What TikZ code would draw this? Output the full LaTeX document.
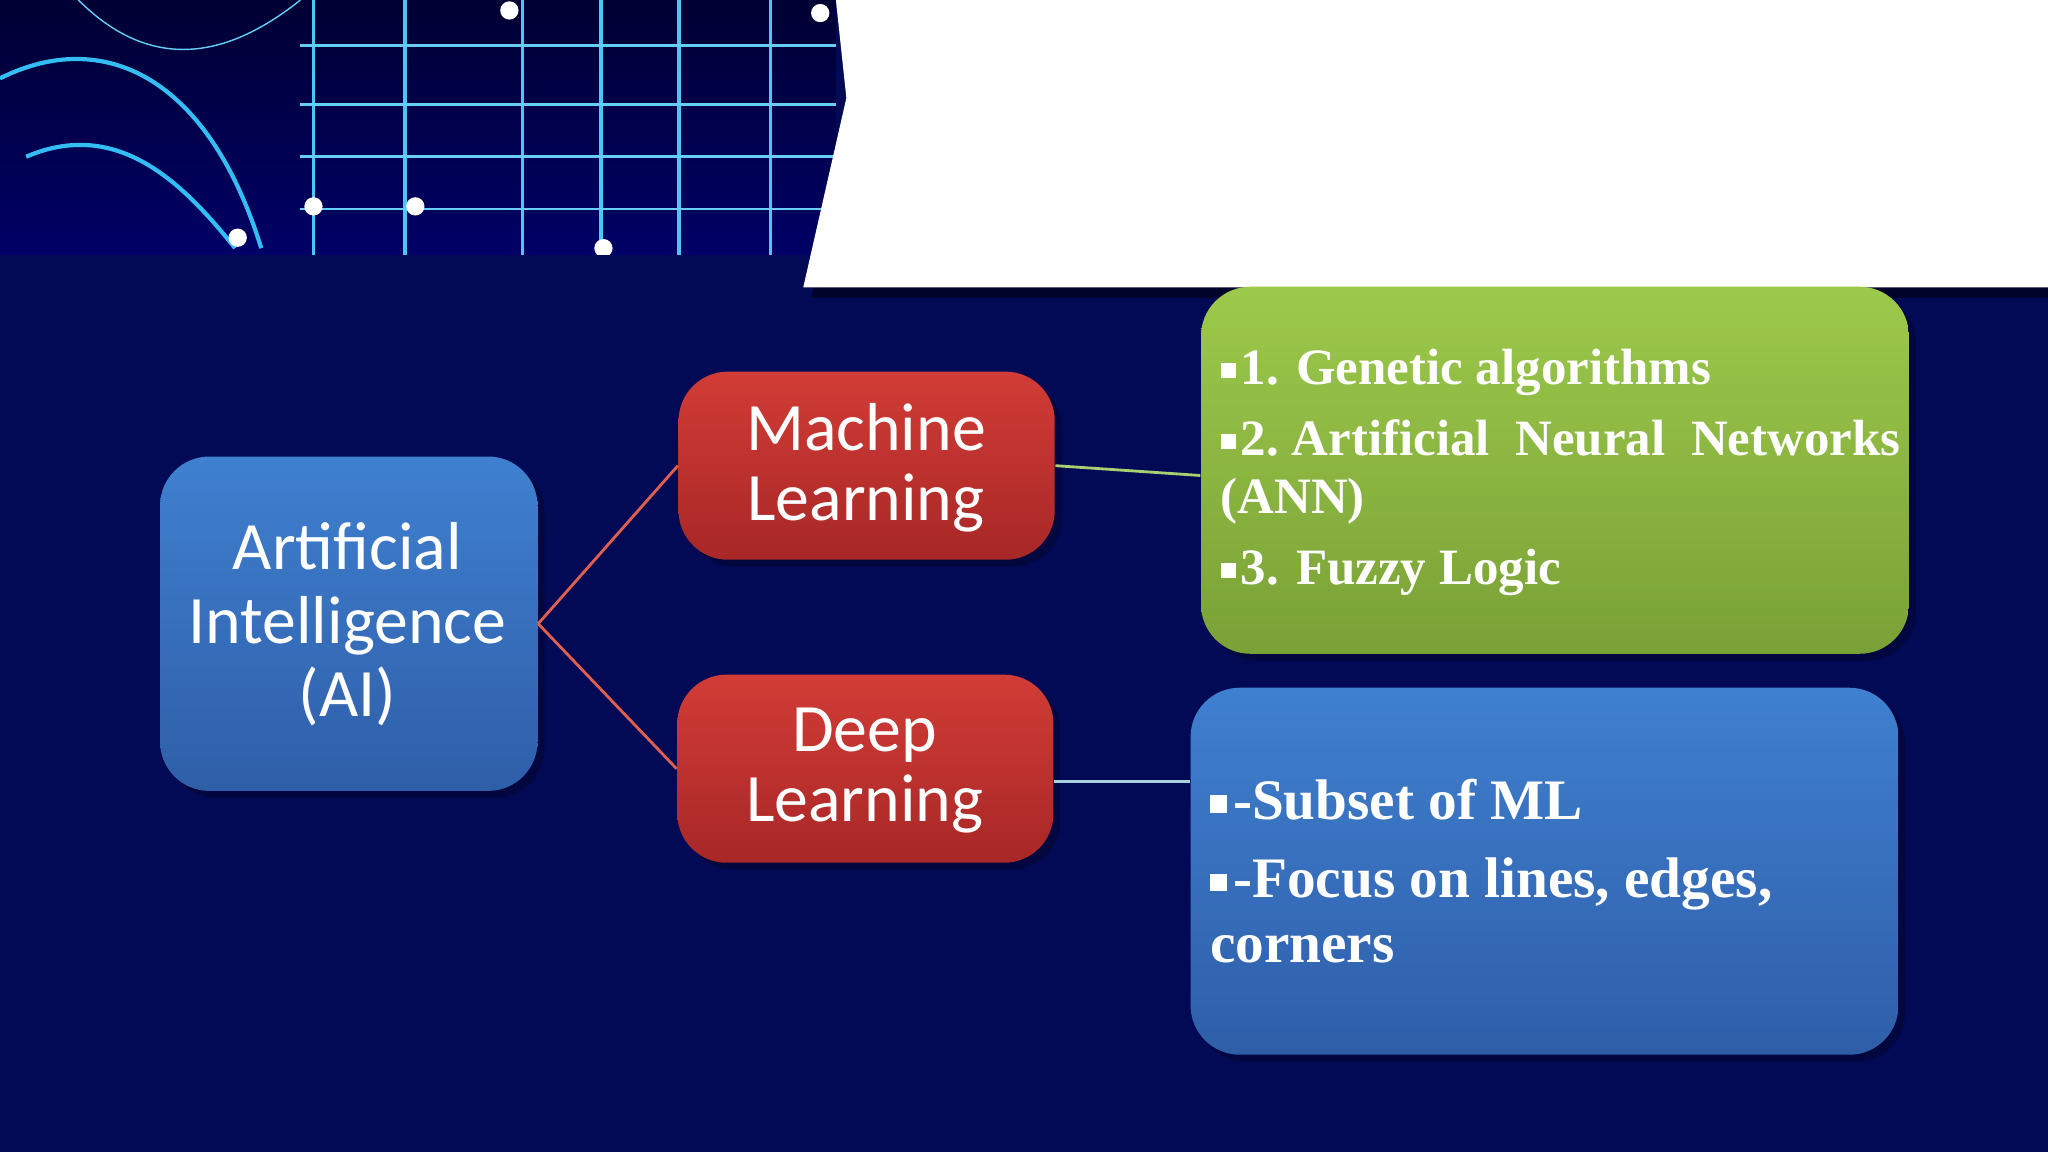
\documentclass[tikz,border=0pt]{standalone}
\usepackage{fontspec}
\setmainfont{Liberation Serif}
\newfontfamily\carl{Carlito}
\usetikzlibrary{shadows}
\definecolor{bg}{HTML}{030A55}
\definecolor{bluetop}{HTML}{3F80D0}
\definecolor{bluebot}{HTML}{2F5EA8}
\definecolor{redtop}{HTML}{D23C36}
\definecolor{redbot}{HTML}{A72727}
\definecolor{grtop}{HTML}{9DC94B}
\definecolor{grbot}{HTML}{79A136}
\definecolor{redline}{HTML}{E0604F}
\definecolor{grline}{HTML}{A8D070}
\definecolor{bline}{HTML}{A8D0E0}
\begin{document}
\begin{tikzpicture}[x=0.013061cm,y=-0.013061cm,
 box/.style={rounded corners=14pt,draw=none,drop shadow={opacity=0.25,fill=black,shadow xshift=2pt,shadow yshift=-2pt}},
 lbl/.style={text=white,font=\carl\fontsize{19.3}{24}\selectfont,align=center},
 bl/.style={text=white,anchor=west,font=\bfseries\fontsize{14.5}{16.5}\selectfont,align=left}]
\useasboundingbox (0,0) rectangle (1568,882);
\fill[bg] (0,0) rectangle (1568,882);
% top image
\fill[top color=black!80!blue, bottom color=blue!40!black] (0,0) rectangle (640,195);
\begin{scope}
\clip (0,0) rectangle (640,195);
\foreach \x in {240,310,400,460,520,590}{\draw[cyan!70,line width=1pt] (\x,0) -- (\x,195);}
\foreach \y in {35,80,120,160}{\draw[cyan!60,line width=0.8pt] (230,\y) -- (640,\y);}
\draw[cyan!80,line width=1.2pt] (0,60) .. controls (80,20) and (160,60) .. (200,190);
\draw[cyan!80,line width=1.2pt] (20,120) .. controls (90,90) and (140,140) .. (180,190);
\draw[cyan!60] (60,0) .. controls (120,60) and (180,40) .. (230,0);
\foreach \p in {(390,8),(240,158),(318,158),(182,182),(462,190),(628,10)}{\fill[white] \p circle (7);}
\end{scope}
\fill[white,drop shadow={opacity=0.5,fill=black,shadow yshift=-3pt}] (640,0) -- (1568,0) -- (1568,220) -- (615,220) -- (648,75) -- cycle;
% boxes
\node[box,top color=bluetop,bottom color=bluebot,minimum width=289*0.013061cm,minimum height=256*0.013061cm,anchor=north west] (ai) at (122,349) {};
\node[lbl] at (266,478) {Artificial\\[-3pt]Intelligence\\[-3pt](AI)};
\node[box,top color=redtop,bottom color=redbot,minimum width=288*0.013061cm,minimum height=144*0.013061cm,anchor=north west] (ml) at (519,284) {};
\node[lbl] at (663,358) {Machine\\[-4pt]Learning};
\node[box,top color=redtop,bottom color=redbot,minimum width=288*0.013061cm,minimum height=144*0.013061cm,anchor=north west] (dl) at (518,516) {};
\node[lbl] at (662,590) {Deep\\[-4pt]Learning};
\node[box,top color=grtop,bottom color=grbot,minimum width=542*0.013061cm,minimum height=281*0.013061cm,anchor=north west] (gr) at (919,219) {};
\node[box,top color=bluetop,bottom color=bluebot,minimum width=542*0.013061cm,minimum height=281*0.013061cm,anchor=north west] (bb) at (911,526) {};
% connectors
\draw[redline,line width=0.8pt] (ai.east) -- (ml.west);
\draw[redline,line width=0.8pt] (ai.east) -- (dl.west);
\draw[grline,line width=0.8pt] (ml.east) -- ([shift={(0,4)}]gr.west);
\draw[bline,line width=0.8pt] ([shift={(0,10)}]dl.east) -- ([shift={(0,10)}]dl.east -| bb.west);
% texts
\newcommand\bsq{\rule[0.25ex]{0.3em}{0.3em}\hspace{0.1em}}
\node[bl] (t1) at (925,285) {\bsq1. Genetic algorithms};
\node[bl] (t2) at (925,361) {\bsq2.\ Artificial\ \ Neural\ \ Networks\\(ANN)};
\node[bl] (t3) at (925,438) {\bsq3. Fuzzy Logic};
\node[bl,font=\bfseries\fontsize{16.3}{18.5}\selectfont] (t4) at (917,612) {\bsq-Subset of ML};
\node[bl,font=\bfseries\fontsize{16.3}{18.5}\selectfont] (t5) at (917,697) {\bsq-Focus on lines, edges,\\corners};
\end{tikzpicture}
\end{document}
